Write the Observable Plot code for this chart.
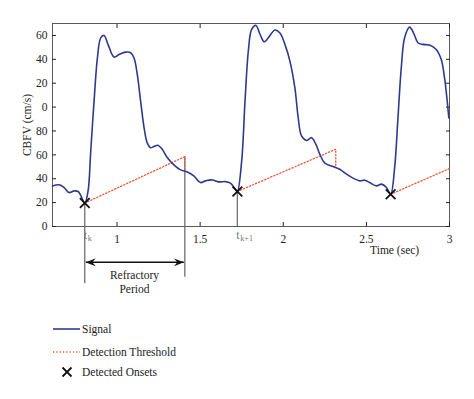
<!DOCTYPE html>
<html><head><meta charset="utf-8">
<script src="https://cdn.jsdelivr.net/npm/d3@7"></script>
<script src="https://cdn.jsdelivr.net/npm/@observablehq/plot@0.6"></script>
<style>
body{margin:0;background:#fff;font-family:"Liberation Serif",serif;}
#wrap{position:relative;width:474px;height:399px;}
#legend{position:absolute;left:0;top:300px;width:474px;height:99px;font-size:11.5px;color:#222;}
.row{position:absolute;left:53px;display:flex;align-items:center;height:16px;}
.row span{margin-left:2px;}
</style></head><body><div id="wrap"><div id="chart"></div><div id="legend"></div></div>
<script>
const time = [0.612,0.652,0.682,0.712,0.742,0.766,0.782,0.806,0.826,0.842,0.862,0.882,0.902,0.922,0.946,0.982,1.012,1.052,1.082,1.102,1.122,1.142,1.166,1.182,1.202,1.222,1.246,1.272,1.302,1.342,1.382,1.423,1.462,1.502,1.532,1.573,1.612,1.652,1.682,1.712,1.724,1.750,1.770,1.790,1.810,1.836,1.860,1.886,1.910,1.950,1.980,2.010,2.040,2.070,2.090,2.110,2.140,2.170,2.196,2.220,2.250,2.300,2.340,2.381,2.420,2.460,2.490,2.520,2.561,2.591,2.621,2.646,2.670,2.690,2.710,2.730,2.760,2.784,2.810,2.840,2.880,2.920,2.950,2.970,2.984,2.996];
const cbfv = [34.0,34.9,32.6,28.4,29.8,29.3,26.0,19.6,29.8,63,105,141,158,160,152.5,141.9,144,146,145.5,141.3,127.4,105,80,70,66,67,68,64.7,57.7,51.6,47.4,45.7,42.4,36.8,38.2,39,37.4,37.6,36.3,31.3,29.3,55,105,147,165,168.4,161,154.7,158,164.5,162,152.5,138.5,116,91,75.8,72,74.4,68.9,60.5,53,50.2,48,43.8,40.5,38.2,38.8,36.8,34,35.5,32.6,27,49.3,91,133,158,167,162,153.9,152.5,152,148.3,140,124.6,108,91];
const onsetTime = [0.806, 1.724, 2.646];
const onsetValue = [19.6, 29.3, 27];
const onsetSub = ["k", "k+1"];
const thresholdEndTime = [1.408, 2.316, 3.0];
const thresholdPeak = [58.5, 64.7, 48.5];
const thresholdDrop = [46, 50, null];
const xTicks = [1, 1.5, 2, 2.5, 3];
const yTicks = [0, 20, 40, 60, 80, 100, 120, 140, 160];
const guideTime = [0.806, 1.408, 1.724];
const guideTop = [19.6, 58.5, 29.3];
const guideBottom = [-48, -42.6, 0];
const refractoryStart = 0.812, refractoryEnd = 1.402, refractoryLevel = -30;
const refractoryText = ["Refractory", "Period"];
const refractoryTextY = [-41, -53];

const signal = time.map((t, i) => ({t, v: cbfv[i]}));
const threshold = [];
onsetTime.forEach((t, i) => {
  threshold.push({seg: i, t, v: onsetValue[i]});
  threshold.push({seg: i, t: thresholdEndTime[i], v: thresholdPeak[i]});
  if (thresholdDrop[i] != null) threshold.push({seg: i, t: thresholdEndTime[i], v: thresholdDrop[i]});
});
const onsets = onsetTime.map((t, i) => ({t, v: onsetValue[i]}));
const guides = guideTime.map((t, i) => ({t, y1: guideTop[i], y2: guideBottom[i]}));

const navy = "#2f3a8f", red = "#ea5a3c", gray = "#6e6e6e", tkColor = "#6f7d6f";

function stealth(color, context) {
  const ns = "http://www.w3.org/2000/svg";
  const m = context.document.createElementNS(ns, "marker");
  m.setAttribute("viewBox", "-10 -5 10 10");
  m.setAttribute("markerUnits", "userSpaceOnUse");
  m.setAttribute("markerWidth", 10);
  m.setAttribute("markerHeight", 10);
  m.setAttribute("refX", 0);
  m.setAttribute("refY", 0);
  m.setAttribute("orient", "auto-start-reverse");
  const p = context.document.createElementNS(ns, "path");
  p.setAttribute("d", "M0,0L-10,-4L-6.5,0L-10,4Z");
  p.setAttribute("fill", color);
  p.setAttribute("stroke", "none");
  m.appendChild(p);
  return m;
}

const chart = Plot.plot({
  width: 474, height: 300,
  marginLeft: 52, marginRight: 25, marginTop: 23, marginBottom: 74,
  style: {fontFamily: "Liberation Serif, serif", fontSize: "11.5px", color: "#222"},
  x: {domain: [0.612, 3]},
  y: {domain: [0, 170]},
  marks: [
    Plot.frame({stroke: "#5a5a5a"}),
    Plot.axisX({anchor: "bottom", ticks: xTicks, tickSize: -4, tickPadding: 12, label: null, tickFormat: d => String(d)}),
    Plot.axisX({anchor: "top", ticks: xTicks, tickSize: -4, label: null, tickFormat: () => ""}),
    Plot.axisY({anchor: "left", ticks: yTicks, tickSize: -4, tickPadding: 9, tickFormat: d => String(d % 100), label: "CBFV (cm/s)", labelAnchor: "center", labelArrow: "none", labelOffset: 30}),
    Plot.axisY({anchor: "right", ticks: yTicks, tickSize: -4, label: null, tickFormat: () => ""}),
    Plot.ruleX(guides, {x: "t", y1: "y1", y2: "y2", stroke: gray, strokeWidth: 1.3}),
    Plot.line(threshold, {x: "t", y: "v", z: "seg", stroke: red, strokeWidth: 1.3, strokeDasharray: "1.3,2"}),
    Plot.line(signal, {x: "t", y: "v", curve: "catmull-rom", stroke: navy, strokeWidth: 1.6}),
    Plot.dot(onsets, {x: "t", y: "v", symbol: "times", r: 4.5, stroke: "#111", strokeWidth: 1.8}),
    Plot.text(onsetSub, {x: (d, i) => onsetTime[i], y: 0, text: () => "t", textAnchor: "start", dx: -1, dy: 9, fill: tkColor}),
    Plot.text(onsetSub, {x: (d, i) => onsetTime[i], y: 0, text: d => d, textAnchor: "start", dx: 3, dy: 12, fill: tkColor, fontSize: 8}),
    Plot.link([0], {x1: () => refractoryStart, x2: () => refractoryEnd, y1: () => refractoryLevel, y2: () => refractoryLevel, stroke: "#111", strokeWidth: 1.5, markerStart: stealth, markerEnd: stealth}),
    Plot.text(refractoryText, {x: () => 1.105, y: (d, i) => refractoryTextY[i], text: d => d, fill: "#222", fontSize: 11.5}),
    Plot.text(["Time (sec)"], {x: () => 2.67, y: () => -19.7, text: d => d, fill: "#222", fontSize: 11.5})
  ]
});
document.getElementById("chart").appendChild(chart);

const legendItems = [
  {label: "Signal", kind: "line"},
  {label: "Detection Threshold", kind: "dotted"},
  {label: "Detected Onsets", kind: "x"}
];
const legendTop = [21.3, 43.7, 64.3];
const legend = document.getElementById("legend");
legendItems.forEach((it, i) => {
  const row = document.createElement("div");
  row.className = "row";
  row.style.top = legendTop[i] + "px";
  let sw;
  if (it.kind === "line") sw = `<svg width="27" height="16"><line x1="0" x2="27" y1="8" y2="8" stroke="${navy}" stroke-width="1.6"/></svg>`;
  else if (it.kind === "dotted") sw = `<svg width="27" height="16"><line x1="0" x2="27" y1="8" y2="8" stroke="${red}" stroke-width="1.3" stroke-dasharray="1.3,2"/></svg>`;
  else sw = `<svg width="27" height="16"><path d="M9.5,3.5L18.5,12.5M18.5,3.5L9.5,12.5" stroke="#111" stroke-width="1.8"/></svg>`;
  row.innerHTML = sw + `<span>${it.label}</span>`;
  legend.appendChild(row);
});
</script></body></html>
